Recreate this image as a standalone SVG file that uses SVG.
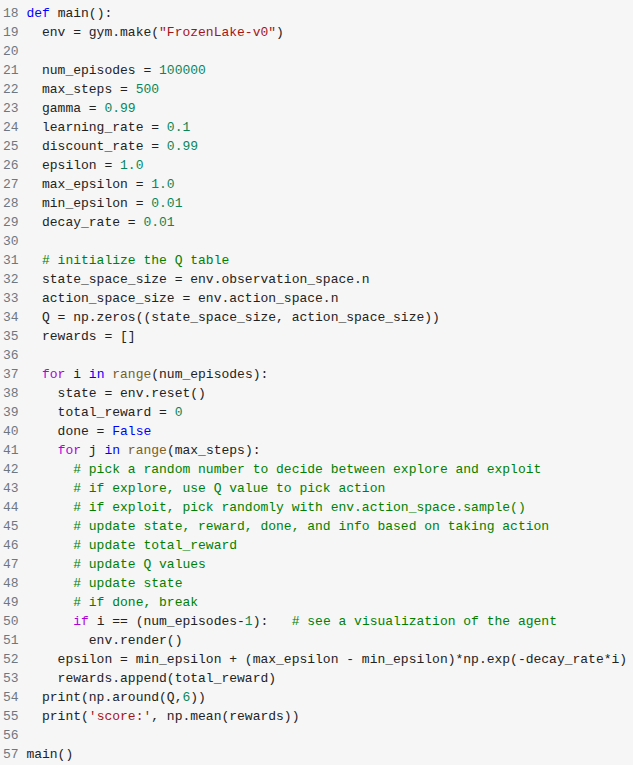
<svg xmlns="http://www.w3.org/2000/svg" width="633" height="771" viewBox="0 0 633 771">
<style>
text{font-family:"Liberation Mono","DejaVu Sans Mono",monospace;font-size:13px;fill:#222;white-space:pre}
.n{fill:#6e7781}.k{fill:#0000ff}.c{fill:#af00db}.s{fill:#a31515}.d{fill:#098658}.g{fill:#008000}.f{fill:#795e26}
</style>
<rect x="0" y="0" width="633" height="765" fill="#f6f6f6"/>
<g id="lines">
<text x="3" y="17"><tspan class="n">18</tspan> <tspan class="k">def</tspan> main():</text>
<text x="3" y="36"><tspan class="n">19</tspan>   env = gym.make(<tspan class="s">"FrozenLake-v0"</tspan>)</text>
<text x="3" y="55"><tspan class="n">20</tspan></text>
<text x="3" y="74"><tspan class="n">21</tspan>   num_episodes = <tspan class="d">100000</tspan></text>
<text x="3" y="93"><tspan class="n">22</tspan>   max_steps = <tspan class="d">500</tspan></text>
<text x="3" y="112"><tspan class="n">23</tspan>   gamma = <tspan class="d">0.99</tspan></text>
<text x="3" y="131"><tspan class="n">24</tspan>   learning_rate = <tspan class="d">0.1</tspan></text>
<text x="3" y="150"><tspan class="n">25</tspan>   discount_rate = <tspan class="d">0.99</tspan></text>
<text x="3" y="169"><tspan class="n">26</tspan>   epsilon = <tspan class="d">1.0</tspan></text>
<text x="3" y="188"><tspan class="n">27</tspan>   max_epsilon = <tspan class="d">1.0</tspan></text>
<text x="3" y="207"><tspan class="n">28</tspan>   min_epsilon = <tspan class="d">0.01</tspan></text>
<text x="3" y="226"><tspan class="n">29</tspan>   decay_rate = <tspan class="d">0.01</tspan></text>
<text x="3" y="245"><tspan class="n">30</tspan></text>
<text x="3" y="264"><tspan class="n">31</tspan>   <tspan class="g"># initialize the Q table</tspan></text>
<text x="3" y="283"><tspan class="n">32</tspan>   state_space_size = env.observation_space.n</text>
<text x="3" y="302"><tspan class="n">33</tspan>   action_space_size = env.action_space.n</text>
<text x="3" y="321"><tspan class="n">34</tspan>   Q = np.zeros((state_space_size, action_space_size))</text>
<text x="3" y="340"><tspan class="n">35</tspan>   rewards = []</text>
<text x="3" y="359"><tspan class="n">36</tspan></text>
<text x="3" y="378"><tspan class="n">37</tspan>   <tspan class="c">for</tspan> i <tspan class="k">in</tspan> <tspan class="f">range</tspan>(num_episodes):</text>
<text x="3" y="397"><tspan class="n">38</tspan>     state = env.reset()</text>
<text x="3" y="416"><tspan class="n">39</tspan>     total_reward = <tspan class="d">0</tspan></text>
<text x="3" y="435"><tspan class="n">40</tspan>     done = <tspan class="k">False</tspan></text>
<text x="3" y="454"><tspan class="n">41</tspan>     <tspan class="c">for</tspan> j <tspan class="k">in</tspan> <tspan class="f">range</tspan>(max_steps):</text>
<text x="3" y="473"><tspan class="n">42</tspan>       <tspan class="g"># pick a random number to decide between explore and exploit</tspan></text>
<text x="3" y="492"><tspan class="n">43</tspan>       <tspan class="g"># if explore, use Q value to pick action</tspan></text>
<text x="3" y="511"><tspan class="n">44</tspan>       <tspan class="g"># if exploit, pick randomly with env.action_space.sample()</tspan></text>
<text x="3" y="530"><tspan class="n">45</tspan>       <tspan class="g"># update state, reward, done, and info based on taking action</tspan></text>
<text x="3" y="549"><tspan class="n">46</tspan>       <tspan class="g"># update total_reward</tspan></text>
<text x="3" y="568"><tspan class="n">47</tspan>       <tspan class="g"># update Q values</tspan></text>
<text x="3" y="587"><tspan class="n">48</tspan>       <tspan class="g"># update state</tspan></text>
<text x="3" y="606"><tspan class="n">49</tspan>       <tspan class="g"># if done, break</tspan></text>
<text x="3" y="625"><tspan class="n">50</tspan>       <tspan class="c">if</tspan> i == (num_episodes-<tspan class="d">1</tspan>):   <tspan class="g"># see a visualization of the agent</tspan></text>
<text x="3" y="644"><tspan class="n">51</tspan>         env.render()</text>
<text x="3" y="663"><tspan class="n">52</tspan>     epsilon = min_epsilon + (max_epsilon - min_epsilon)*np.exp(-decay_rate*i)</text>
<text x="3" y="682"><tspan class="n">53</tspan>     rewards.append(total_reward)</text>
<text x="3" y="701"><tspan class="n">54</tspan>   print(np.around(Q,<tspan class="d">6</tspan>))</text>
<text x="3" y="720"><tspan class="n">55</tspan>   print(<tspan class="s">'score:'</tspan>, np.mean(rewards))</text>
<text x="3" y="739"><tspan class="n">56</tspan></text>
<text x="3" y="758"><tspan class="n">57</tspan> main()</text>
</g>
</svg>
